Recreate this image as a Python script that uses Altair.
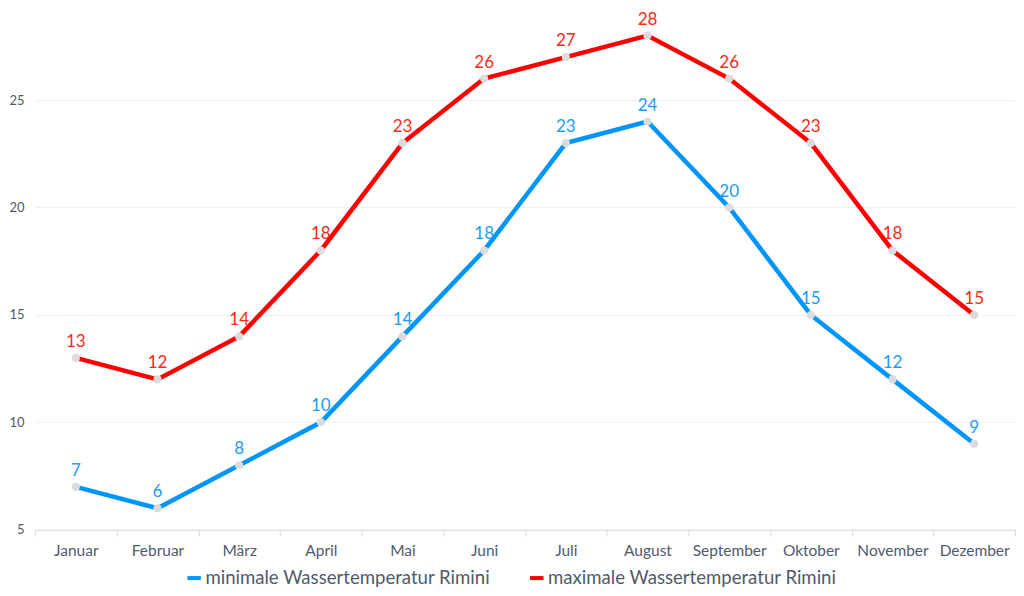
import altair as alt
import pandas as pd

months = ["Januar", "Februar", "März", "April", "Mai", "Juni", "Juli",
          "August", "September", "Oktober", "November", "Dezember"]
min_temp = [7, 6, 8, 10, 14, 18, 23, 24, 20, 15, 12, 9]
max_temp = [13, 12, 14, 18, 23, 26, 27, 28, 26, 23, 18, 15]
series_names = ["minimale Wassertemperatur Rimini", "maximale Wassertemperatur Rimini"]
series_colors = ["#0095f9", "#ff0000"]
label_colors = ["#1a9cf5", "#f72a14"]
y_ticks = [5, 10, 15, 20, 25]

rows = []
for name, vals in zip(series_names, [min_temp, max_temp]):
    for m, v in zip(months, vals):
        rows.append({"Monat": m, "Temp": v, "Serie": name})
df = pd.DataFrame(rows)

FONT = "Lato"
TXT = "#505a6b"

x_enc = alt.X("Monat:N", sort=months, title=None,
              scale=alt.Scale(paddingInner=0, paddingOuter=0),
              axis=alt.Axis(labelAngle=0, tickBand="extent", domainColor="#d9d9d9",
                            tickColor="#d9d9d9", tickSize=6, labelPadding=8,
                            labelFontSize=15.5, labelColor=TXT, labelFont=FONT, grid=False))
y_enc = alt.Y("Temp:Q", title=None,
              scale=alt.Scale(domain=[5, 28.9], nice=False, zero=False),
              axis=alt.Axis(values=y_ticks, domain=False, ticks=False, gridColor="#efefef",
                            labelFontSize=13, labelColor=TXT, labelFont=FONT, labelPadding=11))

base = alt.Chart(df).encode(x=x_enc, y=y_enc)

lines = base.mark_line(strokeWidth=4.5).encode(
    color=alt.Color("Serie:N", sort=series_names,
                    scale=alt.Scale(domain=series_names, range=series_colors),
                    legend=alt.Legend(title=None, orient="none", direction="horizontal",
                                      legendX=150, legendY=553,
                                      symbolType="stroke", symbolStrokeWidth=4,
                                      symbolSize=180, labelFontSize=18.6, labelColor=TXT,
                                      labelFont=FONT, labelOffset=2, labelLimit=0,
                                      columnPadding=31)))
points = base.mark_circle(size=65, color="#dcdcdc", opacity=1).encode(detail="Serie:N")
labels = base.mark_text(dy=-16, fontSize=17, font=FONT).encode(
    text="Temp:Q",
    color=alt.Color("Serie:N", sort=series_names,
                    scale=alt.Scale(domain=series_names, range=label_colors), legend=None))

chart = alt.layer(lines, points, labels).resolve_scale(color="independent").properties(
    width=981, height=514,
    padding={"left": 0, "top": 2, "right": 0, "bottom": 0},
    background="white",
).configure_view(stroke=None)

chart.save("out.html", embed_options={"renderer": "svg", "actions": False})
